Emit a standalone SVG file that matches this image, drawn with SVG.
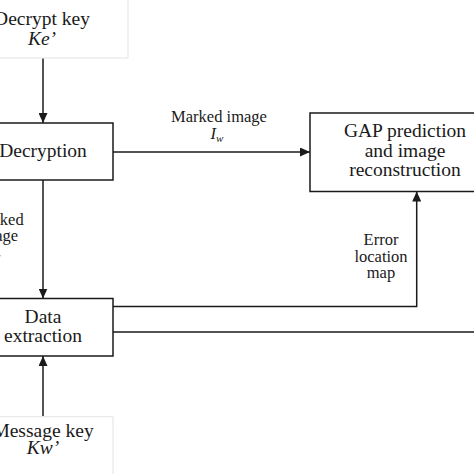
<svg xmlns="http://www.w3.org/2000/svg" width="474" height="474" viewBox="0 0 474 474">
<defs>
<marker id="ah" viewBox="0 0 10 9" refX="10" refY="4.5" markerWidth="10" markerHeight="9" markerUnits="userSpaceOnUse" orient="auto">
<path d="M0,0 L10,4.5 L0,9 Z" fill="#1a1a1a"/>
</marker>
<style>
.box{fill:#fff;stroke:#1a1a1a;stroke-width:1.5}
.key{fill:#fff;stroke:#e8e8e8;stroke-width:1.2}
.t{font-family:"Liberation Serif","Times New Roman",serif;font-size:19.5px;fill:#1a1a1a;text-anchor:middle}
.l{font-family:"Liberation Serif","Times New Roman",serif;font-size:16.5px;fill:#1a1a1a;text-anchor:middle}
.i{font-style:italic}
.c{fill:none;stroke:#1a1a1a;stroke-width:1.5}
</style>
</defs>
<rect width="474" height="474" fill="#fff"/>
<g id="connectors">
<line class="c" x1="43" y1="58" x2="43" y2="123" marker-end="url(#ah)"/>
<line class="c" x1="113" y1="152" x2="310" y2="152" marker-end="url(#ah)"/>
<line class="c" x1="43" y1="180" x2="43" y2="298.5" marker-end="url(#ah)"/>
<polyline class="c" points="113,306.5 416.7,306.5 416.7,191.5" marker-end="url(#ah)"/>
<line class="c" x1="113" y1="332" x2="480" y2="332"/>
<line class="c" x1="43" y1="416.7" x2="43" y2="356" marker-end="url(#ah)"/>
<text class="l" x="219" y="122">Marked image</text>
<text class="l i" x="217" y="138.5">I<tspan font-size="11" dy="3">w</tspan></text>
<text class="l" x="-2" y="225">Marked</text>
<text class="l" x="-2" y="240.5">image</text>
<text class="l i" x="-6" y="257">I<tspan font-size="11" dy="3">w</tspan></text>
<text class="l" x="381" y="245">Error</text>
<text class="l" x="381" y="261.5">location</text>
<text class="l" x="381" y="278">map</text>
</g>
<g id="decrypt-key">
<rect class="key" x="-60" y="-30" width="188" height="88"/>
<text class="t" x="42" y="25">Decrypt key</text>
<text class="t i" x="42" y="44.5">Ke’</text>
</g>
<g id="decryption">
<rect class="box" x="-20" y="123" width="133" height="57"/>
<text class="t" x="43" y="157">Decryption</text>
</g>
<g id="gap">
<rect class="box" x="310" y="113" width="180" height="78.5"/>
<text class="t" x="405" y="137">GAP prediction</text>
<text class="t" x="405" y="156.5">and image</text>
<text class="t" x="405" y="176">reconstruction</text>
</g>
<g id="data-extraction">
<rect class="box" x="-20" y="298.5" width="133" height="57.5"/>
<text class="t" x="43" y="322.7">Data</text>
<text class="t" x="43" y="341.7">extraction</text>
</g>
<g id="message-key">
<rect class="key" x="-60" y="416.7" width="173" height="90"/>
<text class="t" x="43" y="437.3">Message key</text>
<text class="t i" x="43" y="454">Kw’</text>
</g>
</svg>
